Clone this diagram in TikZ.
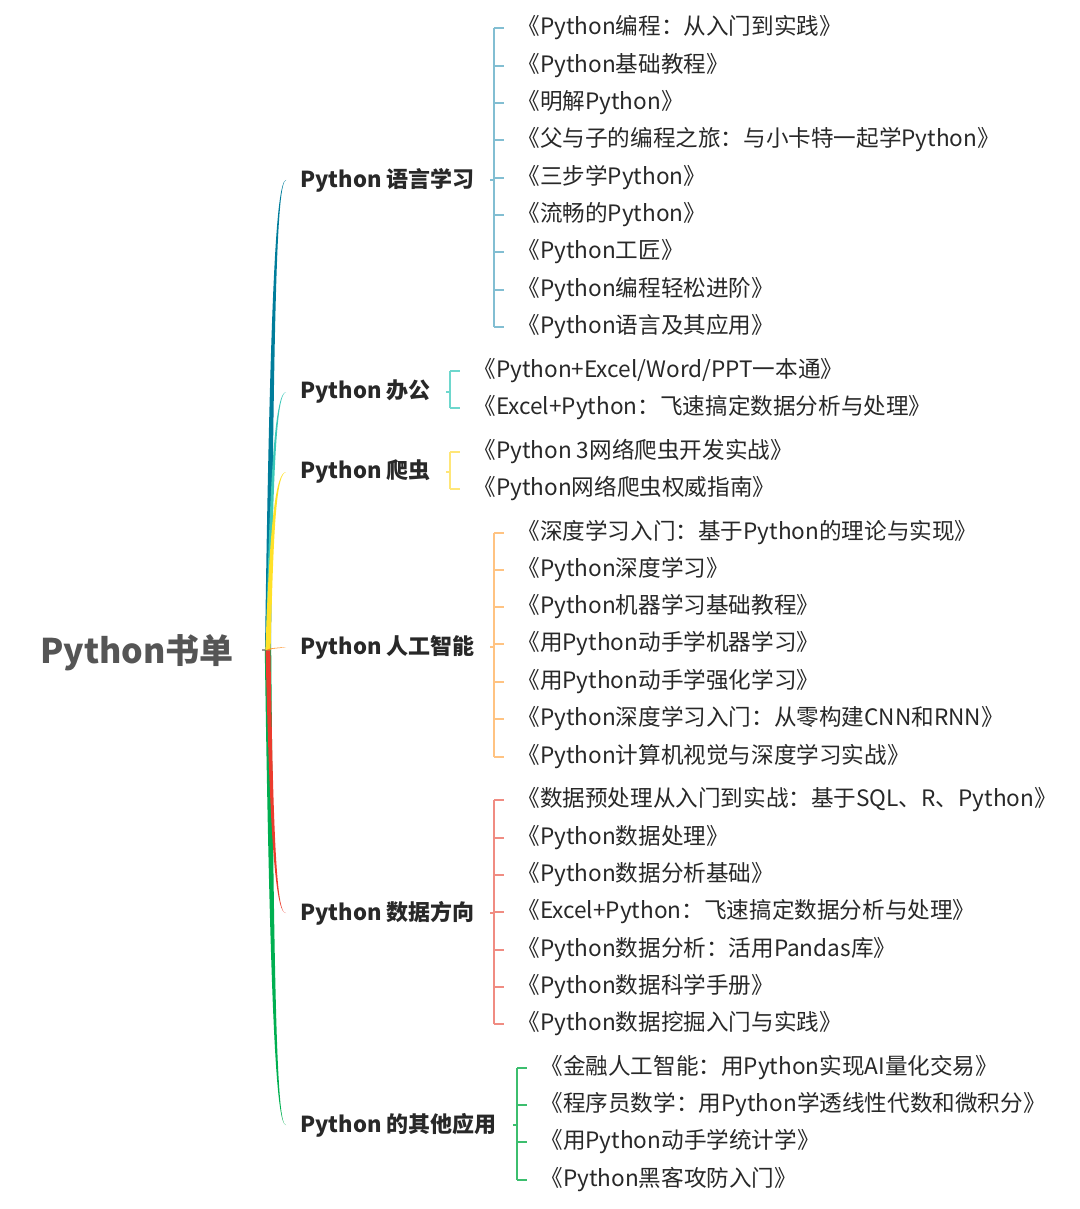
\documentclass[tikz,border=0pt]{standalone}
\usepackage{fontspec}
\setmainfont{Noto Sans CJK SC}
\definecolor{txt}{RGB}{40,40,40}
\definecolor{rootc}{RGB}{85,85,85}
\definecolor{cA}{RGB}{0,125,155}\definecolor{lA}{RGB}{130,190,210}
\definecolor{cB}{RGB}{60,200,185}\definecolor{lB}{RGB}{110,215,205}
\definecolor{cC}{RGB}{255,225,40}\definecolor{lC}{RGB}{255,230,120}
\definecolor{cD}{RGB}{255,135,20}\definecolor{lD}{RGB}{255,195,130}
\definecolor{cE}{RGB}{235,60,45}\definecolor{lE}{RGB}{240,140,130}
\definecolor{cF}{RGB}{0,175,80}\definecolor{lF}{RGB}{60,190,110}
\tikzset{x=0.5pt,y=-0.5pt,
 book/.style={anchor=west,inner sep=0pt,font=\fontsize{11.3}{12}\selectfont,text=txt},
 branch/.style={anchor=west,inner sep=0pt,font=\fontsize{11}{12}\selectfont\bfseries,text=txt}}
\newcommand{\taper}[3]{% color, branch y, width
 \fill[#1] (268-#3,650) .. controls (270,{#2+(650-#2)*0.25}) and (276,#2+1) .. (286,#2)
  .. controls (277,#2+2) and ({271+#3},{#2+(650-#2)*0.25}) .. (268+#3,650) -- cycle;}
\newcommand{\grp}[6]{% name, color, bx, branch y, list of y:text, branch label
 \node[branch] (#1) at (300,#4) {#6};
 \foreach \yy/\tt [count=\i] in {#5}{
   \node[book] (#1\i) at (#3+23,\yy) {\tt};
   \draw[#2,line width=0.6pt] (#3,\yy) -- ++(10,0);}
}
\begin{document}
\begin{tikzpicture}
\useasboundingbox (0,0) rectangle (1080,1209);
\node[anchor=center,inner sep=0pt,font=\fontsize{17}{20}\selectfont\bfseries,text=rootc] (root) at (137,653) {Python书单};
\coordinate (hub) at (268,650);
\draw[rootc!60,line width=0.6pt] (hub) ++(-6,0) -- (hub);
\taper{cF}{1125}{3.2}
\taper{cE}{913}{2.4}
\taper{cA}{180}{3}
\taper{cB}{392}{2.2}
\taper{cC}{472}{2.6}
\taper{cD}{647}{1.5}
\grp{A}{lA}{494}{180}{28/《Python编程：从入门到实践》,66/《Python基础教程》,103/《明解Python》,140/《父与子的编程之旅：与小卡特一起学Python》,178/《三步学Python》,215/《流畅的Python》,252/《Python工匠》,290/《Python编程轻松进阶》,327/《Python语言及其应用》}{Python 语言学习}
\draw[lA,line width=0.6pt] (494,28) -- (494,327) (490,180) -- (494,180);
\grp{B}{lB}{450}{392}{371/{《Python+Excel/Word/PPT一本通》},408/《Excel+Python：飞速搞定数据分析与处理》}{Python 办公}
\draw[lB,line width=0.6pt] (450,371) -- (450,408) (446,392) -- (450,392);
\grp{C}{lC}{450}{472}{452/《Python 3网络爬虫开发实战》,489/《Python网络爬虫权威指南》}{Python 爬虫}
\draw[lC,line width=0.6pt] (450,452) -- (450,489) (446,472) -- (450,472);
\grp{D}{lD}{494}{647}{533/《深度学习入门：基于Python的理论与实现》,570/《Python深度学习》,607/《Python机器学习基础教程》,644/《用Python动手学机器学习》,682/《用Python动手学强化学习》,719/《Python深度学习入门：从零构建CNN和RNN》,757/《Python计算机视觉与深度学习实战》}{Python 人工智能}
\draw[lD,line width=0.6pt] (494,533) -- (494,757) (490,647) -- (494,647);
\grp{E}{lE}{494}{913}{800/《数据预处理从入门到实战：基于SQL、R、Python》,838/《Python数据处理》,875/《Python数据分析基础》,912/《Excel+Python：飞速搞定数据分析与处理》,950/《Python数据分析：活用Pandas库》,987/《Python数据科学手册》,1024/《Python数据挖掘入门与实践》}{Python 数据方向}
\draw[lE,line width=0.6pt] (494,800) -- (494,1024) (490,913) -- (494,913);
\grp{F}{lF}{517}{1125}{1068/《金融人工智能：用Python实现AI量化交易》,1105/《程序员数学：用Python学透线性代数和微积分》,1142/《用Python动手学统计学》,1180/《Python黑客攻防入门》}{Python 的其他应用}
\draw[lF,line width=0.6pt] (517,1068) -- (517,1180) (513,1125) -- (517,1125);
\end{tikzpicture}
\end{document}
